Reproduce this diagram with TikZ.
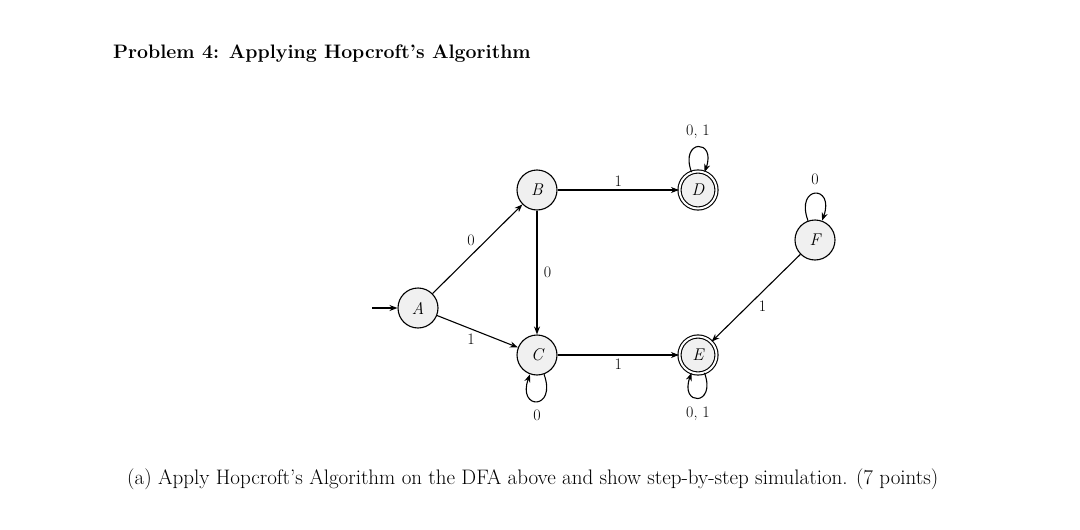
\documentclass[tikz,border=0pt]{standalone}
\usetikzlibrary{arrows.meta,automata}
\begin{document}
\begin{tikzpicture}[x=1pt,y=-1pt,
  st/.style={circle,draw,line width=1.1pt,fill=gray!12,minimum size=40pt,inner sep=0pt,font=\fontsize{17}{19}\selectfont\itshape},
  acc/.style={st,double,double distance=2pt,minimum size=37pt},
  lab/.style={font=\fontsize{16}{18}\selectfont},
  edge/.style={draw,-{Stealth[length=8pt,width=6pt]},line width=1.1pt},
  lp/.style={edge,looseness=7,min distance=20pt}]
\useasboundingbox (0,0) rectangle (1080,530);
\node[anchor=west,font=\fontsize{19.5}{22}\selectfont\bfseries,inner sep=0pt] (title) at (113,54) {Problem 4: Applying Hopcroft's Algorithm};
\node[st] (A) at (418,308) {A};
\node[st] (B) at (537,190) {B};
\node[st] (C) at (537,355) {C};
\node[acc] (D) at (698,190) {D};
\node[acc] (E) at (698,355) {E};
\node[st] (F) at (815,240) {F};
\coordinate (s) at (372,308);
\draw[edge] (s) -- (A);
\draw[edge] (A) -- node[lab,above left=-1pt] {0} (B);
\draw[edge] (A) -- node[lab,below left=-1pt] {1} (C);
\draw[edge] (B) -- node[lab,right=3pt] {0} (C);
\draw[edge] (B) -- node[lab,above] {1} (D);
\draw[edge] (C) -- node[lab,below] {1} (E);
\draw[edge] (F) -- node[lab,below right=-1pt] {1} (E);
\draw[lp] (D) to[out=110,in=70] node[lab,above=5pt] {0, 1} (D);
\draw[lp] (F) to[out=110,in=70] node[lab,above=5pt] {0} (F);
\draw[lp] (C) to[out=-70,in=-110] node[lab,below=5pt] {0} (C);
\draw[lp] (E) to[out=-70,in=-110] node[lab,below=5pt] {0, 1} (E);
\node[anchor=west,font=\fontsize{21}{24}\selectfont,inner sep=0pt] (cap) at (127,479) {(a) Apply Hopcroft's Algorithm on the DFA above and show step-by-step simulation. (7 points)};
\end{tikzpicture}
\end{document}
